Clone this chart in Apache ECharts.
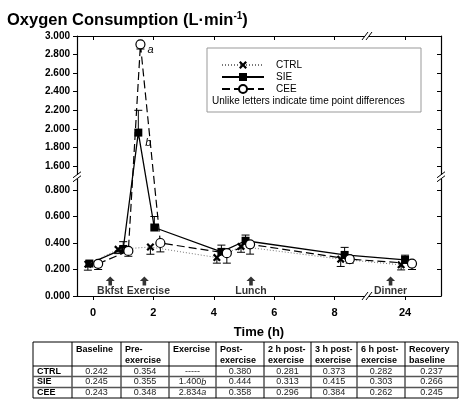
<!DOCTYPE html>
<html>
<head>
<meta charset="utf-8">
<script src="https://cdn.jsdelivr.net/npm/echarts@6.0.0/dist/echarts.min.js"></script>
<style>
html, body { margin: 0; padding: 0; background: #fff; }
#chart { width: 474px; height: 401px; }
</style>
</head>
<body>
<div id="chart"></div>
<script>
// time points (h); each group is nudged a little sideways, as in the figure
const ctrlTime = [-0.17, 0.83, null, 1.9, 4.1, 4.9, 8.2, 23.87];
const sieTime  = [-0.12, 1.0, 1.5, 2.03, 4.25, 5.05, 8.33, 24.0];
const ceeTime  = [0.17, 1.17, 1.57, 2.23, 4.43, 5.2, 8.5, 24.23];

// oxygen consumption (L/min)
const ctrlVals = [0.240, 0.352, null, 0.370, 0.290, 0.374, 0.278, 0.235];
const sieVals  = [0.245, 0.355, 1.960, 0.517, 0.333, 0.417, 0.310, 0.273];
const ceeVals  = [0.243, 0.340, 2.910, 0.400, 0.323, 0.390, 0.278, 0.245];

// where each error bar ends (CTRL and CEE drawn down, SIE up)
const ctrlErr = [0.195, 0.320, null, 0.315, 0.248, 0.330, 0.223, 0.197];
const sieErr  = [null, 0.410, 2.200, 0.600, 0.384, 0.460, 0.367, 0.308];
const ceeErr  = [0.200, 0.300, 2.860, 0.333, 0.248, 0.316, 0.248, 0.200];

const sieLetters = [null, null, 'b', null, null, null, null, null];
const ceeLetters = [null, null, 'a', null, null, null, null, null];

const mealTimes = [0.57, 1.7, 5.23, 23.52];
const mealNames = ['Bkfst', 'Exercise', 'Lunch', 'Dinner'];

const xTicks = [0, 2, 4, 6, 8, 24];
const yTicks = [0, 0.2, 0.4, 0.6, 0.8, 1.6, 1.8, 2.0, 2.2, 2.4, 2.6, 2.8, 3.0];

// table under the chart
const tableHeads = ['Baseline', 'Pre-\nexercise', 'Exercise', 'Post-\nexercise', '2 h post-\nexercise',
  '3 h post-\nexercise', '6 h post-\nexercise', 'Recovery\nbaseline'];
const tableGroups = ['CTRL', 'SIE', 'CEE'];
const tableCtrl = ['0.242', '0.354', '-----', '0.380', '0.281', '0.373', '0.282', '0.237'];
const tableSie  = ['0.245', '0.355', '1.400b', '0.444', '0.313', '0.415', '0.303', '0.266'];
const tableCee  = ['0.243', '0.348', '2.834a', '0.358', '0.296', '0.384', '0.262', '0.245'];

const FONT = '"Liberation Sans", Arial, sans-serif';

// broken axes: x jumps from ~9 h to ~23 h, y from ~0.9 to ~1.5 with a tighter scale above
const X_CUT = 9.07, X_SHIFT = 13.67, X_MIN = -0.53, X_MAX = 11.52;
const Y_CUT = 0.9, Y_REF = 1.6, Y_REF_POS = 0.981, Y_K = 0.701;
function xMap(t) { return t > 12 ? t - X_SHIFT : t; }
function xBack(v) { return v > X_CUT ? v + X_SHIFT : v; }
function yMap(v) { return v > 1.2 ? Y_REF_POS + (v - Y_REF) * Y_K : v; }
function yBack(v) { return v > Y_CUT ? Y_REF + (v - Y_REF_POS) / Y_K : v; }
const Y_MAX = yMap(3.0);

const crossPath = 'path://M2,0 L5,3 L8,0 L10,2 L7,5 L10,8 L8,10 L5,7 L2,10 L0,8 L3,5 L0,2 Z';
const arrowPath = 'path://M5,0 L10,5 L7,5 L7,10 L3,10 L3,5 L0,5 Z';

function linePoints(times, vals, letters, offset) {
  const out = [];
  times.forEach((t, i) => {
    if (vals[i] == null) return;
    const item = { value: [xMap(t), yMap(vals[i])] };
    if (letters && letters[i]) {
      item.label = { show: true, formatter: letters[i], position: 'right', offset: offset,
        fontStyle: 'italic', fontSize: 11, fontFamily: FONT, color: '#000' };
    }
    out.push(item);
  });
  return out;
}

function errPoints(times, vals, ends) {
  const out = [];
  times.forEach((t, i) => {
    if (vals[i] == null || ends[i] == null) return;
    out.push([xMap(t), yMap(vals[i]), yMap(ends[i])]);
  });
  return out;
}

function renderErr(params, api) {
  const a = api.coord([api.value(0), api.value(1)]);
  const b = api.coord([api.value(0), api.value(2)]);
  const st = { stroke: '#000', lineWidth: 1 };
  return {
    type: 'group',
    children: [
      { type: 'line', shape: { x1: a[0], y1: a[1], x2: b[0], y2: b[1] }, style: st },
      { type: 'line', shape: { x1: b[0] - 4, y1: b[1], x2: b[0] + 4, y2: b[1] }, style: st }
    ]
  };
}

function errSeries(data) {
  return { type: 'custom', renderItem: renderErr, data: data, z: 1, silent: true,
    encode: { x: 0, y: [1, 2] } };
}

function buildTable() {
  const colX = [33, 72, 121, 169, 216, 264, 311, 357, 405, 458];
  const rowY = [342, 366, 376.5, 387.5, 398];
  const els = [];
  const thin = { stroke: '#000', lineWidth: 1 };
  els.push({ type: 'rect', shape: { x: colX[0], y: rowY[0], width: colX[9] - colX[0], height: rowY[4] - rowY[0] },
    style: { fill: '#fff', stroke: '#000', lineWidth: 1 } });
  for (let c = 1; c < 9; c++) {
    els.push({ type: 'line', shape: { x1: colX[c], y1: rowY[0], x2: colX[c], y2: rowY[4] }, style: thin });
  }
  for (let r = 1; r < 4; r++) {
    els.push({ type: 'line', shape: { x1: colX[0], y1: rowY[r], x2: colX[9], y2: rowY[r] },
      style: { stroke: r === 1 ? '#000' : '#555', lineWidth: r === 1 ? 1 : 1.5 } });
  }
  tableHeads.forEach((h, i) => {
    els.push({ type: 'text', x: colX[i + 1] + 4, y: rowY[0] + 2,
      style: { text: h, font: 'bold 9px ' + FONT, lineHeight: 11, fill: '#000', verticalAlign: 'top' } });
  });
  const rows = [tableCtrl, tableSie, tableCee];
  rows.forEach((row, r) => {
    const cy = (rowY[r + 1] + rowY[r + 2]) / 2;
    els.push({ type: 'text', x: colX[0] + 4, y: cy,
      style: { text: tableGroups[r], font: 'bold 9px ' + FONT, fill: '#000', verticalAlign: 'middle' } });
    row.forEach((v, c) => {
      els.push({ type: 'text', x: (colX[c + 1] + colX[c + 2]) / 2, y: cy,
        style: { text: v.replace(/([ab])$/, '{i|$1}'), font: '9px ' + FONT, fill: '#222',
          align: 'center', verticalAlign: 'middle',
          rich: { i: { fontStyle: 'italic', fontSize: 9, fontFamily: FONT, fill: '#222' } } } });
    });
  });
  return { type: 'group', children: els };
}

const chart = echarts.init(document.getElementById('chart'));

const axisText = { fontFamily: FONT, fontWeight: 'bold', color: '#000' };
const frameLine = { show: true, onZero: false, lineStyle: { color: '#000', width: 1.2 } };

chart.setOption({
  animation: false,
  backgroundColor: '#fff',
  title: {
    text: 'Oxygen Consumption (L·min{s|-1})',
    left: 2, top: 6,
    textStyle: {
      fontFamily: FONT, fontWeight: 'bold', fontSize: 16.5, color: '#000',
      rich: { s: { fontFamily: FONT, fontWeight: 'bold', fontSize: 10, color: '#000', verticalAlign: 'top', padding: [0, 0, 8, 0] } }
    }
  },
  grid: { left: 77, right: 33, top: 36, bottom: 105, containLabel: false },
  legend: {
    data: ['CTRL', 'SIE', 'CEE'],
    orient: 'vertical', left: 216, top: 55,
    itemWidth: 42, itemHeight: 10, itemGap: 2,
    textStyle: { fontFamily: FONT, fontSize: 10, color: '#000', padding: [0, 0, 0, 7] }
  },
  xAxis: [{
    type: 'value', min: X_MIN, max: X_MAX, position: 'bottom',
    name: 'Time (h)', nameLocation: 'middle', nameGap: 30,
    nameTextStyle: { fontFamily: FONT, fontWeight: 'bold', fontSize: 13, color: '#000' },
    axisLine: frameLine,
    axisTick: { customValues: xTicks.map(xMap), length: 4, lineStyle: { color: '#000' } },
    axisLabel: Object.assign({ customValues: xTicks.map(xMap), fontSize: 11, margin: 11,
      formatter: v => String(Math.round(xBack(v))) }, axisText),
    splitLine: { show: false }
  }, {
    type: 'value', min: X_MIN, max: X_MAX, position: 'top',
    axisLine: frameLine,
    axisTick: { customValues: xTicks.map(xMap), inside: true, length: 4, lineStyle: { color: '#000' } },
    axisLabel: { show: false },
    splitLine: { show: false }
  }],
  yAxis: [{
    type: 'value', min: 0, max: Y_MAX, position: 'left',
    axisLine: frameLine,
    axisTick: { show: true, customValues: yTicks.map(yMap), length: 4, lineStyle: { color: '#000' } },
    axisLabel: Object.assign({ customValues: yTicks.map(yMap), fontSize: 10, margin: 7,
      formatter: v => yBack(v).toFixed(3) }, axisText),
    splitLine: { show: false }
  }, {
    type: 'value', min: 0, max: Y_MAX, position: 'right',
    axisLine: frameLine,
    axisTick: { show: true, customValues: yTicks.map(yMap), inside: true, length: 4, lineStyle: { color: '#000' } },
    axisLabel: { show: false },
    splitLine: { show: false }
  }],
  series: [
    errSeries(errPoints(ctrlTime, ctrlVals, ctrlErr)),
    errSeries(errPoints(sieTime, sieVals, sieErr)),
    errSeries(errPoints(ceeTime, ceeVals, ceeErr)),
    {
      name: 'CTRL', type: 'line', z: 3,
      data: linePoints(ctrlTime, ctrlVals),
      symbol: crossPath, symbolSize: 8,
      itemStyle: { color: '#000' },
      lineStyle: { color: '#777', width: 1, type: [1, 2] }
    },
    {
      name: 'SIE', type: 'line', z: 2,
      data: linePoints(sieTime, sieVals, sieLetters, [-2, 10]),
      symbol: 'rect', symbolSize: 8,
      itemStyle: { color: '#000' },
      lineStyle: { color: '#000', width: 1.3, type: 'solid' }
    },
    {
      name: 'CEE', type: 'line', z: 4,
      data: linePoints(ceeTime, ceeVals, ceeLetters, [-3, 6]),
      symbol: 'circle', symbolSize: 9,
      itemStyle: { color: '#fff', borderColor: '#000', borderWidth: 1.2 },
      lineStyle: { color: '#000', width: 1.2, type: [8, 4] }
    },
    {
      name: 'meals', type: 'scatter', z: 5, silent: true,
      data: mealTimes.map((t, i) => ({
        value: [xMap(t), 0.114],
        label: { offset: [i === 1 ? 4 : 0, 0] }
      })),
      symbol: arrowPath, symbolSize: [9, 9],
      itemStyle: { color: '#000' },
      label: {
        show: true, position: 'bottom', distance: 0,
        formatter: p => mealNames[p.dataIndex],
        fontFamily: FONT, fontWeight: 'bold', fontSize: 10.5, color: '#000'
      }
    }
  ]
});

// legend frame, footnote, break marks and the data table
function slashes(cx, cy, horizontal) {
  const st = { stroke: '#000', lineWidth: 1 };
  const children = [{ type: 'rect', z: 100, shape: { x: cx - 2, y: cy - 2, width: 4, height: 4 }, style: { fill: '#fff' } }];
  [-2, 2].forEach(d => {
    children.push(horizontal
      ? { type: 'line', z: 101, shape: { x1: cx + d - 3, y1: cy + 4, x2: cx + d + 3, y2: cy - 4 }, style: st }
      : { type: 'line', z: 101, shape: { x1: cx - 4, y1: cy + d + 3, x2: cx + 4, y2: cy + d - 3 }, style: st });
  });
  return { type: 'group', children };
}

const pxLeft = chart.convertToPixel({ xAxisIndex: 0 }, X_MIN);
const pxRight = chart.convertToPixel({ xAxisIndex: 0 }, X_MAX);
const pxBottom = chart.convertToPixel({ yAxisIndex: 0 }, 0);
const pxTop = chart.convertToPixel({ yAxisIndex: 0 }, Y_MAX);
const pxXCut = chart.convertToPixel({ xAxisIndex: 0 }, X_CUT);
const pxYCut = chart.convertToPixel({ yAxisIndex: 0 }, Y_CUT);

chart.setOption({
  graphic: [
    { type: 'rect', z: -1, shape: { x: 207, y: 48, width: 214, height: 64 },
      style: { fill: '#fff', stroke: '#999', lineWidth: 1 } },
    { type: 'text', x: 212, y: 101,
      style: { text: 'Unlike letters indicate time point differences', font: '10px ' + FONT, fill: '#000', verticalAlign: 'middle' } },
    slashes(pxLeft, pxYCut, false),
    slashes(pxRight, pxYCut, false),
    slashes(pxXCut, pxBottom, true),
    slashes(pxXCut, pxTop, true),
    buildTable()
  ]
});
</script>
</body>
</html>
